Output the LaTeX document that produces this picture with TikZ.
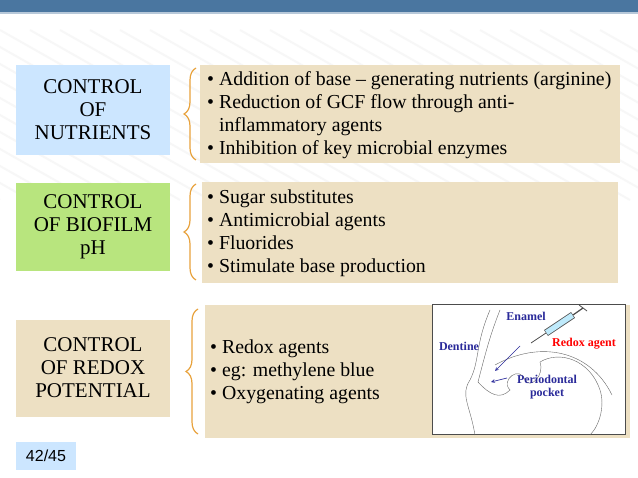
\documentclass[tikz,border=0pt]{standalone}
\usepackage{fontspec}
\setmainfont{Liberation Serif}
\newfontfamily\sansf{Liberation Sans}
\usetikzlibrary{decorations.pathreplacing}
\definecolor{topbar}{HTML}{4A76A0}
\definecolor{bluebox}{HTML}{CCE6FF}
\definecolor{greenbox}{HTML}{B8E57E}
\definecolor{beigebox}{HTML}{EDE0C3}
\definecolor{bracecol}{HTML}{E8A23C}
\definecolor{inkblue}{HTML}{2A2A9A}
\tikzset{
  ctrl/.style={align=center, font=\fontsize{21}{23}\selectfont, inner sep=0pt},
  list/.style={align=left, anchor=west, font=\fontsize{19.8}{23}\selectfont, inner sep=0pt},
  curly/.style={draw=bracecol, line width=1.2pt, decorate, decoration={brace, amplitude=12pt, mirror}},
  lbl/.style={font=\bfseries\fontsize{12}{13}\selectfont, inner sep=0pt, text=inkblue}
}
\begin{document}
\begin{tikzpicture}[x=1pt,y=-1pt]
\useasboundingbox (0,0) rectangle (638,478);
\fill[white] (0,0) rectangle (638,478);
% faint background stripes
\foreach\s in {0,30,...,900}
  \draw[black!3, line width=2pt] (\s-300,30) -- (\s,200);
% top bar
\fill[topbar] (0,0) rectangle (638,12);
\fill[topbar!40] (0,12) rectangle (638,14);
%
% control boxes
\fill[bluebox] (16,65) rectangle (170,155);
\node[ctrl] (nutr) at (93,110) {CONTROL\\OF\\NUTRIENTS};
\fill[greenbox] (16,183) rectangle (170,271);
\node[ctrl] (ph) at (93,227) {CONTROL\\OF BIOFILM\\pH};
\fill[beigebox] (16,320) rectangle (170,417);
\node[ctrl] (redox) at (93,368) {CONTROL\\OF REDOX\\POTENTIAL};
%
% lists
\fill[beigebox] (200,65) rectangle (620,163);
\node[list] (listA) at (207,115) {\textbullet\ Addition of base -- generating nutrients (arginine)\\
\textbullet\ Reduction of GCF flow through anti-\\
\phantom{\textbullet\ }inflammatory agents\\
\textbullet\ Inhibition of key microbial enzymes};
\fill[beigebox] (202,182) rectangle (618,283);
\node[list] (listB) at (207,233) {\textbullet\ Sugar substitutes\\
\textbullet\ Antimicrobial agents\\
\textbullet\ Fluorides\\
\textbullet\ Stimulate base production};
\fill[beigebox] (205,305) rectangle (630,438);
\node[list] (listC) at (210,372) {\textbullet\ Redox agents\\
\textbullet\ eg: methylene blue\\
\textbullet\ Oxygenating agents};
%
% braces
\draw[curly] (196,68) -- (196,160);
\draw[curly] (196,184) -- (196,280);
\draw[curly] (198,309) -- (198,434);
%
% sketch of the pocket
\fill[white] (432,305) rectangle (625,435);
\draw[black!70, line width=1pt] (432,305) rectangle (625,435);
\draw[black!60, line width=.4pt] (490,310) .. controls (475,345) and (480,360) .. (470,380)
  .. controls (460,395) and (470,405) .. (475,435);
\draw[black!60, line width=.4pt] (500,310) .. controls (490,335) and (485,355) .. (478,382);
\draw[black!60, line width=.4pt] (478,382) .. controls (490,395) and (500,400) .. (510,390)
  .. controls (500,380) and (520,365) .. (525,380) .. controls (530,390) and (545,375) .. (540,362)
  .. controls (560,350) and (590,360) .. (600,390) .. controls (605,405) and (600,425) .. (590,435);
\draw[black!60, line width=.4pt] (495,365) .. controls (540,340) and (590,350) .. (612,395);
% syringe
\draw[black!70, line width=7pt] (546,333) -- (573,315);
\draw[cyan!25, line width=5.4pt] (546.5,332.7) -- (572.5,315.3);
\draw[black!70, line width=.8pt] (546,333) -- (531,343);
\draw[black!70, line width=1.2pt] (573,315) -- (583,308);
\draw[black!70, line width=.8pt] (579,305) -- (587,311);
\node[lbl] (enamel) at (526,316) {Enamel};
\node[lbl] (dentine) at (459,346) {Dentine};
\node[lbl, text=red] (agent) at (584,344) {Redox agent};
\node[lbl, align=center] (pocket) at (547,387) {Periodontal\\pocket};
\draw[inkblue, ->, >=stealth, line width=.7pt] (520,346) -- (495,371);
\draw[inkblue, ->, >=stealth, line width=.7pt] (507,378) -- (491,382);
%
% page number
\fill[bluebox] (16,442) rectangle (76,470);
\node[font=\sansf\fontsize{16}{17}\selectfont] (pg) at (46,456) {42/45};
\end{tikzpicture}
\end{document}
